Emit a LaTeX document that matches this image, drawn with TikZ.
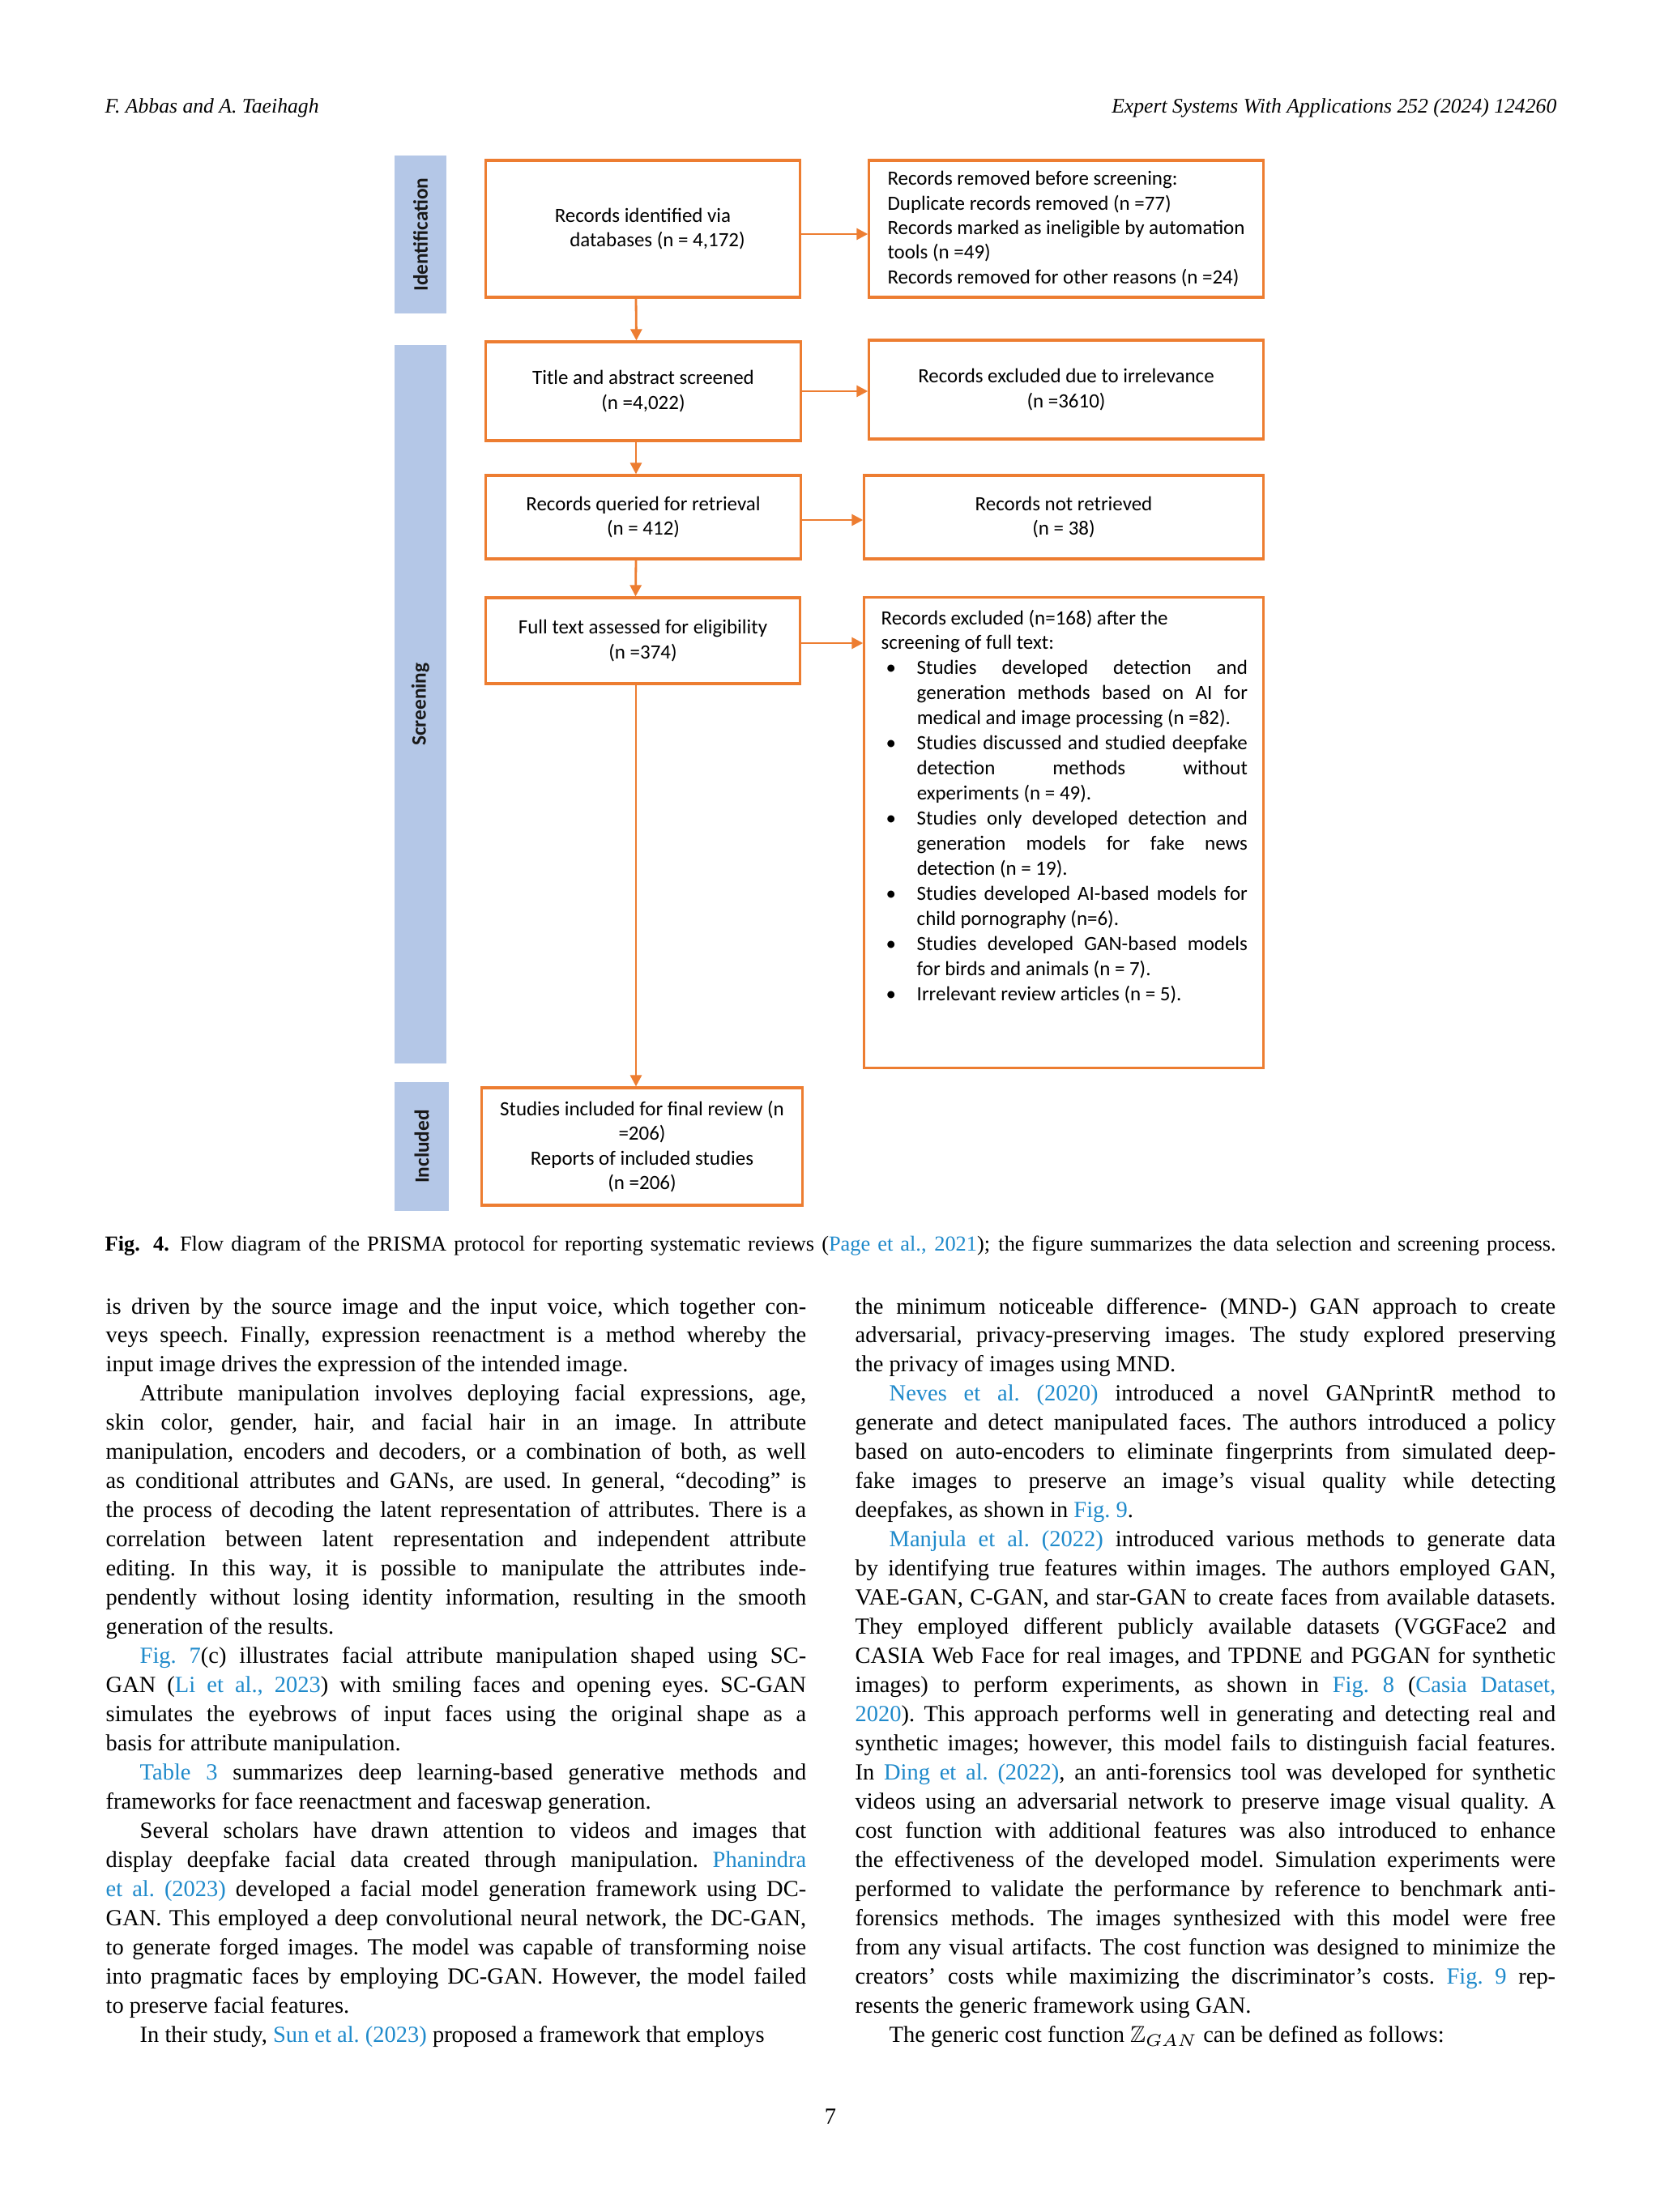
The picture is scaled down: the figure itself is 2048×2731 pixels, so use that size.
\documentclass[tikz,border=0pt]{standalone}
\usepackage{amssymb}
\usepackage{fontspec}
\setmainfont{Liberation Serif}
\newfontfamily\prismafont{Carlito}
\usetikzlibrary{arrows.meta, positioning}
\definecolor{prorange}{HTML}{ED7D31}
\definecolor{prband}{HTML}{B4C7E7}
\definecolor{linkblue}{HTML}{1F8ACB}
\newcommand{\lnk}[1]{{\color{linkblue}#1}}
\newcommand{\pind}{\hspace*{0.42cm}}
\newcommand{\prbul}{\par\hangindent=0.44cm\hangafter=1\noindent\makebox[0.44cm][l]{\hspace{0.06cm}\textbullet}}
\tikzset{
  band/.style={fill=prband, draw=none, inner sep=0pt, rotate=90, text=black!90,
    font=\prismafont\fontsize{7.2}{8}\selectfont\bfseries},
  prbox/.style={draw=prorange, line width=0.9pt, inner sep=0pt, align=center,
    font=\prismafont\fontsize{7.1}{8.65}\selectfont},
  flow/.style={draw=prorange, line width=0.8pt, -{Triangle[length=0.14cm,width=0.14cm]}},
  coltext/.style={anchor=base west, inner sep=0pt, text width=8.64cm, align=justify,
    font=\fontsize{8.1}{10.23}\selectfont\frenchspacing}
}
\begin{document}
\begin{tikzpicture}[x=0.01cm, y=-0.01cm]
\useasboundingbox (0,0) rectangle (2048,2731);
\fill[white] (0,0) rectangle (2048,2731);
% running head
\node[anchor=base west, inner sep=0pt, font=\fontsize{7.3}{9}\selectfont\itshape] (headl) at (129,140) {F. Abbas and A. Taeihagh};
\node[anchor=base east, inner sep=0pt, font=\fontsize{7.3}{9}\selectfont\itshape] (headr) at (1922,140) {Expert Systems With Applications 252 (2024) 124260};
% phase bands
\node[band, minimum width=1.95cm, minimum height=0.64cm] (idband) at (519,289.5) {Identification};
\node[band, minimum width=8.87cm, minimum height=0.64cm] (scband) at (519,869.5) {Screening};
\node[band, minimum width=1.59cm, minimum height=0.67cm] (inband) at (520.5,1415.5) {Included};
% main column
\node[prbox, minimum width=3.87cm, minimum height=1.69cm] (b1) at (793.5,282.5) {Records identified via\\\hspace*{0.36cm}databases (n = 4,172)};
\node[prbox, minimum width=3.88cm, minimum height=1.22cm] (b2) at (794,483) {Title and abstract screened\\(n =4,022)};
\node[prbox, minimum width=3.88cm, minimum height=1.03cm] (b3) at (794,638.5) {Records queried for retrieval\\(n = 412)};
\node[prbox, minimum width=3.87cm, minimum height=1.06cm] (b4) at (793.5,791) {Full text assessed for eligibility\\(n =374)};
\node[prbox, minimum width=3.95cm, minimum height=1.45cm] (b5) at (792.5,1415.5) {Studies included for final review (n\\=206)\\Reports of included studies\\(n =206)};
% side column
\node[prbox, align=left, minimum width=4.86cm, minimum height=1.69cm] (r1) at (1316,282.5) {Records removed before screening:\\Duplicate records removed (n =77)\\Records marked as ineligible by automation\\tools (n =49)\\Records removed for other reasons (n =24)};
\node[prbox, minimum width=4.86cm, minimum height=1.22cm] (r2) at (1316,481) {Records excluded due to irrelevance\\(n =3610)};
\node[prbox, minimum width=4.92cm, minimum height=1.03cm] (r3) at (1313,638.5) {Records not retrieved\\(n = 38)};
\node[prbox, minimum width=4.92cm, minimum height=5.80cm] (r4) at (1313,1028) {};
\node[anchor=base west, inner sep=0pt, text width=4.52cm, align=justify,
  font=\prismafont\fontsize{7.1}{8.8}\selectfont] (r4txt) at (1087,771) {Records excluded (n=168) after the\\screening of full text:
\prbul Studies developed detection and\linebreak
generation methods based on AI for\linebreak
medical and image processing (n =82).
\prbul Studies discussed and studied deepfake\linebreak
detection methods without\linebreak
experiments (n = 49).
\prbul Studies only developed detection and\linebreak
generation models for fake news\linebreak
detection (n = 19).
\prbul Studies developed AI-based models for\linebreak
child pornography (n=6).
\prbul Studies developed GAN-based models\linebreak
for birds and animals (n = 7).
\prbul Irrelevant review articles (n = 5).};
% connectors
\draw[flow] ([xshift=-0.085cm]b1.south) -- ([xshift=-0.085cm]b2.north);
\draw[flow] ([xshift=-0.09cm]b2.south) -- ([xshift=-0.09cm]b3.north);
\draw[flow] ([xshift=-0.09cm]b3.south) -- ([xshift=-0.09cm]b4.north);
\draw[flow] ([xshift=-0.085cm]b4.south) -- ([xshift=-0.085cm]b4.south |- b5.north);
\draw[flow] ([yshift=-0.065cm]b1.east) -- ([yshift=-0.065cm]b1.east -| r1.west);
\draw[flow] (b2.east) -- (b2.east -| r2.west);
\draw[flow] ([yshift=-0.035cm]b3.east) -- ([yshift=-0.035cm]b3.east -| r3.west);
\draw[flow] ([yshift=-0.03cm]b4.east) -- ([yshift=-0.03cm]b4.east -| r4.west);
% caption
\node[anchor=base west, inner sep=0pt, font=\fontsize{7.5}{9}\selectfont] (cap) at (129,1544) {\makebox[17.9cm][s]{\textbf{Fig. 4.}\enspace Flow diagram of the PRISMA protocol for reporting systematic reviews (\lnk{Page et al., 2021}); the figure summarizes the data selection and screening process.}};
% body text
\node[coltext] (colL) at (130,1622) {is driven by the source image and the input voice, which together con-\linebreak
veys speech. Finally, expression reenactment is a method whereby the\linebreak
input image drives the expression of the intended image.\par
\pind Attribute manipulation involves deploying facial expressions, age,\linebreak
skin color, gender, hair, and facial hair in an image. In attribute\linebreak
manipulation, encoders and decoders, or a combination of both, as well\linebreak
as conditional attributes and GANs, are used. In general, “decoding” is\linebreak
the process of decoding the latent representation of attributes. There is a\linebreak
correlation between latent representation and independent attribute\linebreak
editing. In this way, it is possible to manipulate the attributes inde-\linebreak
pendently without losing identity information, resulting in the smooth\linebreak
generation of the results.\par
\pind\lnk{Fig. 7}(c) illustrates facial attribute manipulation shaped using SC-\linebreak
GAN (\lnk{Li et al., 2023}) with smiling faces and opening eyes. SC-GAN\linebreak
simulates the eyebrows of input faces using the original shape as a\linebreak
basis for attribute manipulation.\par
\pind\lnk{Table 3} summarizes deep learning-based generative methods and\linebreak
frameworks for face reenactment and faceswap generation.\par
\pind Several scholars have drawn attention to videos and images that\linebreak
display deepfake facial data created through manipulation. \lnk{Phanindra\linebreak
et al. (2023)} developed a facial model generation framework using DC-\linebreak
GAN. This employed a deep convolutional neural network, the DC-GAN,\linebreak
to generate forged images. The model was capable of transforming noise\linebreak
into pragmatic faces by employing DC-GAN. However, the model failed\linebreak
to preserve facial features.\par
\pind In their study, \lnk{Sun et al. (2023)} proposed a framework that employs};
\node[coltext] (colR) at (1055,1622) {the minimum noticeable difference- (MND-) GAN approach to create\linebreak
adversarial, privacy-preserving images. The study explored preserving\linebreak
the privacy of images using MND.\par
\pind\lnk{Neves et al. (2020)} introduced a novel GANprintR method to\linebreak
generate and detect manipulated faces. The authors introduced a policy\linebreak
based on auto-encoders to eliminate fingerprints from simulated deep-\linebreak
fake images to preserve an image’s visual quality while detecting\linebreak
deepfakes, as shown in \lnk{Fig. 9}.\par
\pind\lnk{Manjula et al. (2022)} introduced various methods to generate data\linebreak
by identifying true features within images. The authors employed GAN,\linebreak
VAE-GAN, C-GAN, and star-GAN to create faces from available datasets.\linebreak
They employed different publicly available datasets (VGGFace2 and\linebreak
CASIA Web Face for real images, and TPDNE and PGGAN for synthetic\linebreak
images) to perform experiments, as shown in \lnk{Fig. 8} (\lnk{Casia Dataset,\linebreak
2020}). This approach performs well in generating and detecting real and\linebreak
synthetic images; however, this model fails to distinguish facial features.\linebreak
In \lnk{Ding et al. (2022)}, an anti-forensics tool was developed for synthetic\linebreak
videos using an adversarial network to preserve image visual quality. A\linebreak
cost function with additional features was also introduced to enhance\linebreak
the effectiveness of the developed model. Simulation experiments were\linebreak
performed to validate the performance by reference to benchmark anti-\linebreak
forensics methods. The images synthesized with this model were free\linebreak
from any visual artifacts. The cost function was designed to minimize the\linebreak
creators’ costs while maximizing the discriminator’s costs. \lnk{Fig. 9} rep-\linebreak
resents the generic framework using GAN.\par
\pind The generic cost function $\mathbb{Z}_{GAN}$ can be defined as follows:};
% folio
\node[anchor=base, inner sep=0pt, font=\fontsize{8.1}{10}\selectfont] (folio) at (1025,2622) {7};
\end{tikzpicture}
\end{document}
